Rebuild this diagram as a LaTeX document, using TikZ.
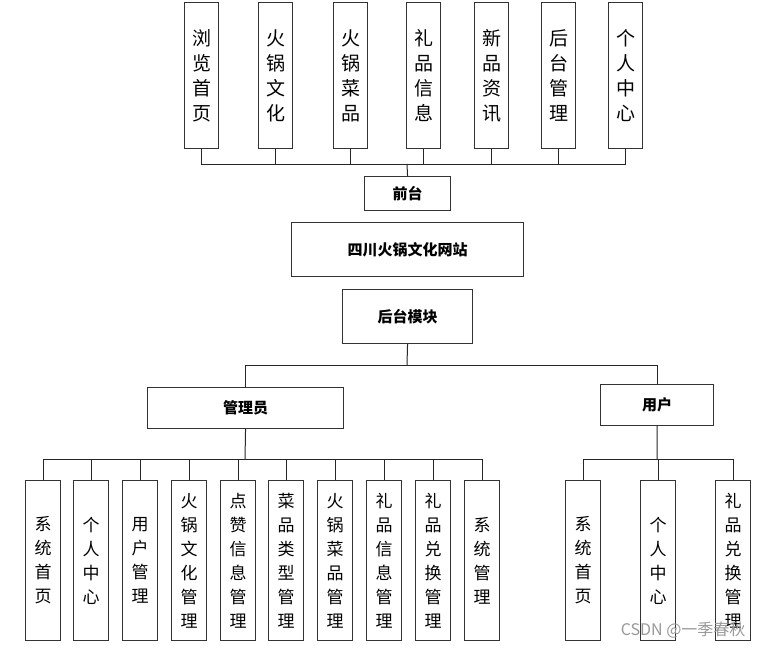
\documentclass[tikz,border=0pt]{standalone}
\usepackage{fontspec}
\setmainfont{Noto Sans CJK SC}
\begin{document}
\begin{tikzpicture}[x=1pt,y=-1pt,
  bx/.style={draw=black!80,line width=1.1pt,fill=white,inner sep=0pt,anchor=north west},
  ln/.style={draw=black!85,line width=1pt}]
\useasboundingbox (0,0) rectangle (760,649);
% top row
\foreach \n/\x/\t in {t1/184/浏\\览\\首\\页, t2/258/火\\锅\\文\\化, t3/333/火\\锅\\菜\\品, t4/406/礼\\品\\信\\息, t5/474/新\\品\\资\\讯, t6/541/后\\台\\管\\理, t7/608/个\\人\\中\\心}{
  \node[bx,minimum width=34pt,minimum height=146pt] (\n) at (\x,2) {};
  \node[font=\fontsize{19}{25}\selectfont,align=center] at (\n.center) {\t};
}
\node[bx,minimum width=86pt,minimum height=34pt,font=\fontsize{15}{18}\selectfont\bfseries] (qt) at (364,176) {前台};
\node[bx,minimum width=232pt,minimum height=54pt,font=\fontsize{15}{18}\selectfont\bfseries] (site) at (291,222) {四川火锅文化网站};
\node[bx,minimum width=130pt,minimum height=54pt,font=\fontsize{15}{18}\selectfont\bfseries] (ht) at (342,289) {后台模块};
\node[bx,minimum width=196pt,minimum height=41pt,font=\fontsize{15}{18}\selectfont\bfseries] (gly) at (147,387) {管理员};
\node[bx,minimum width=113pt,minimum height=41pt,font=\fontsize{15}{18}\selectfont\bfseries] (yh) at (600,384) {用户};
\coordinate (b1) at (407,164);
\foreach \n in {t1,t2,t3,t4,t5,t6,t7}{\draw[ln] (\n.south) |- (b1);}
\draw[ln] (qt.north) -- (b1);
\coordinate (b2) at (407,365);
\draw[ln] (ht.south) -- (b2);
\draw[ln] (gly.north) |- (b2) -| (yh.north);
% admin children
\coordinate (b3) at (245,459);
\draw[ln] (gly.south) -- (b3);
\foreach \n/\x/\t in {a1/25/系\\统\\首\\页, a2/73/个\\人\\中\\心, a3/122/用\\户\\管\\理, a4/171/火\\锅\\文\\化\\管\\理, a5/220/点\\赞\\信\\息\\管\\理, a6/268/菜\\品\\类\\型\\管\\理, a7/317/火\\锅\\菜\\品\\管\\理, a8/366/礼\\品\\信\\息\\管\\理, a9/415/礼\\品\\兑\\换\\管\\理, a10/464/系\\统\\管\\理}{
  \node[bx,minimum width=35pt,minimum height=160pt] (\n) at (\x,480) {};
  \node[font=\fontsize{17}{24}\selectfont,align=center] at (\n.center) {\t};
  \draw[ln] (\n.north) |- (b3);
}
\coordinate (b4) at (657,459);
\draw[ln] (yh.south) -- (b4);
\foreach \n/\x/\t in {u1/565/系\\统\\首\\页, u2/640/个\\人\\中\\心, u3/715/礼\\品\\兑\\换\\管\\理}{
  \node[bx,minimum width=35pt,minimum height=160pt] (\n) at (\x,480) {};
  \node[font=\fontsize{17}{24}\selectfont,align=center] at (\n.center) {\t};
  \draw[ln] (\n.north) |- (b4);
}
\node[text=black!40,font=\fontsize{16}{18}\selectfont,anchor=east] (wm) at (749,630) {CSDN @一季春秋};
\end{tikzpicture}
\end{document}
